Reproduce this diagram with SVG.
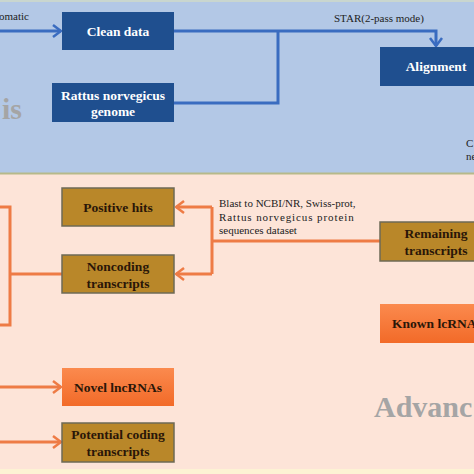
<svg xmlns="http://www.w3.org/2000/svg" width="474" height="474" viewBox="0 0 474 474">
<defs>
<style>
.box{font-family:"Liberation Serif","Times New Roman",serif;font-weight:bold;font-size:13.5px;text-anchor:middle}
.st{text-anchor:start}
.wt{fill:#ffffff}
.dk{fill:#2a1608}
.blue{fill:#1f4f8f}
.gold{fill:#b98729;stroke:#6e6a55;stroke-width:1.5}
.org{fill:url(#og)}
.lbl{font-family:"Liberation Serif","Times New Roman",serif;font-size:11px;fill:#222}
.big{font-family:"Liberation Serif","Times New Roman",serif;font-weight:bold;font-size:30px;fill:#a5a5a5}
.cb{fill:none;stroke:#3a6cc0;stroke-width:3}
.co{fill:none;stroke:#ee7b45;stroke-width:3}
</style>
<linearGradient id="og" x1="0" y1="0" x2="0" y2="1">
<stop offset="0" stop-color="#fb8a4e"/>
<stop offset="1" stop-color="#f26a28"/>
</linearGradient>
<marker id="ab" viewBox="0 0 10 14" refX="9" refY="7" markerWidth="10" markerHeight="14" markerUnits="userSpaceOnUse" orient="auto">
<path d="M1,1 L9,7 L1,13" fill="none" stroke="#3a6cc0" stroke-width="2.5"/>
</marker>
<marker id="ao" viewBox="0 0 10 14" refX="9" refY="7" markerWidth="10" markerHeight="14" markerUnits="userSpaceOnUse" orient="auto">
<path d="M1,1 L9,7 L1,13" fill="none" stroke="#ee7b45" stroke-width="2.5"/>
</marker>
</defs>
<rect x="0" y="0" width="474" height="474" fill="#fde4d8"/>
<rect x="0" y="0" width="474" height="173" fill="#b3c8e6"/>
<rect x="0" y="0" width="474" height="2" fill="#c9d6cf"/>
<rect x="0" y="172.5" width="474" height="2" fill="#b7b98a"/>
<rect x="0" y="469" width="474" height="5" fill="#fdf2d4"/>
<text class="big" x="22" y="119" text-anchor="end">is</text>
<text class="big" x="374" y="417">Advanc</text>
<text class="lbl" x="-1" y="20">omatic</text>
<text class="lbl" x="334" y="22">STAR(2-pass mode)</text>
<text class="lbl" x="466" y="147" font-size="12">C</text>
<text class="lbl" x="466" y="160" font-size="7">ne</text>
<text class="lbl" x="219" y="207">Blast to NCBI/NR, Swiss-prot,</text>
<text class="lbl" x="219" y="221" letter-spacing="0.9">Rattus norvegicus protein</text>
<text class="lbl" x="219" y="234">sequences dataset</text>
<g id="connectors">
<path class="cb" d="M0,31 H61" marker-end="url(#ab)"/>
<path class="cb" d="M174,31 H436 V46" marker-end="url(#ab)"/>
<path class="cb" d="M174,103 H278 V31"/>
<path class="co" d="M212,207 V274"/>
<path class="co" d="M212,207 H176" marker-end="url(#ao)"/>
<path class="co" d="M212,274 H176" marker-end="url(#ao)"/>
<path class="co" d="M212,241 H380"/>
<path class="co" d="M0,207 H10 V325 H0"/>
<path class="co" d="M10,274 H62"/>
<path class="co" d="M0,387 H61" marker-end="url(#ao)"/>
<path class="co" d="M0,442 H61" marker-end="url(#ao)"/>
</g>
<g id="clean-data">
<rect class="blue" x="62" y="12" width="112" height="38"/>
<text class="box wt" x="118" y="36">Clean data</text>
</g>
<g id="genome">
<rect class="blue" x="52" y="83" width="122" height="39"/>
<text class="box wt" x="113" y="100">Rattus norvegicus</text>
<text class="box wt" x="113" y="116">genome</text>
</g>
<g id="alignment">
<rect class="blue" x="380" y="47" width="112" height="39"/>
<text class="box wt" x="436" y="71">Alignment</text>
</g>
<g id="positive-hits">
<rect class="gold" x="62" y="188" width="112" height="38"/>
<text class="box dk" x="118" y="212">Positive hits</text>
</g>
<g id="noncoding">
<rect class="gold" x="62" y="255" width="112" height="38"/>
<text class="box dk" x="118" y="271">Noncoding</text>
<text class="box dk" x="118" y="288">transcripts</text>
</g>
<g id="remaining">
<rect class="gold" x="380" y="222" width="112" height="39"/>
<text class="box dk" x="436" y="238">Remaining</text>
<text class="box dk" x="436" y="255">transcripts</text>
</g>
<g id="known">
<rect class="org" x="380" y="304" width="112" height="39"/>
<text class="box st dk" x="392" y="328">Known lcRNA</text>
</g>
<g id="novel">
<rect class="org" x="62" y="368" width="112" height="38"/>
<text class="box dk" x="118" y="392">Novel lncRNAs</text>
</g>
<g id="potential">
<rect class="gold" x="62" y="423" width="112" height="39"/>
<text class="box dk" x="118" y="439">Potential coding</text>
<text class="box dk" x="118" y="456">transcripts</text>
</g>
</svg>
